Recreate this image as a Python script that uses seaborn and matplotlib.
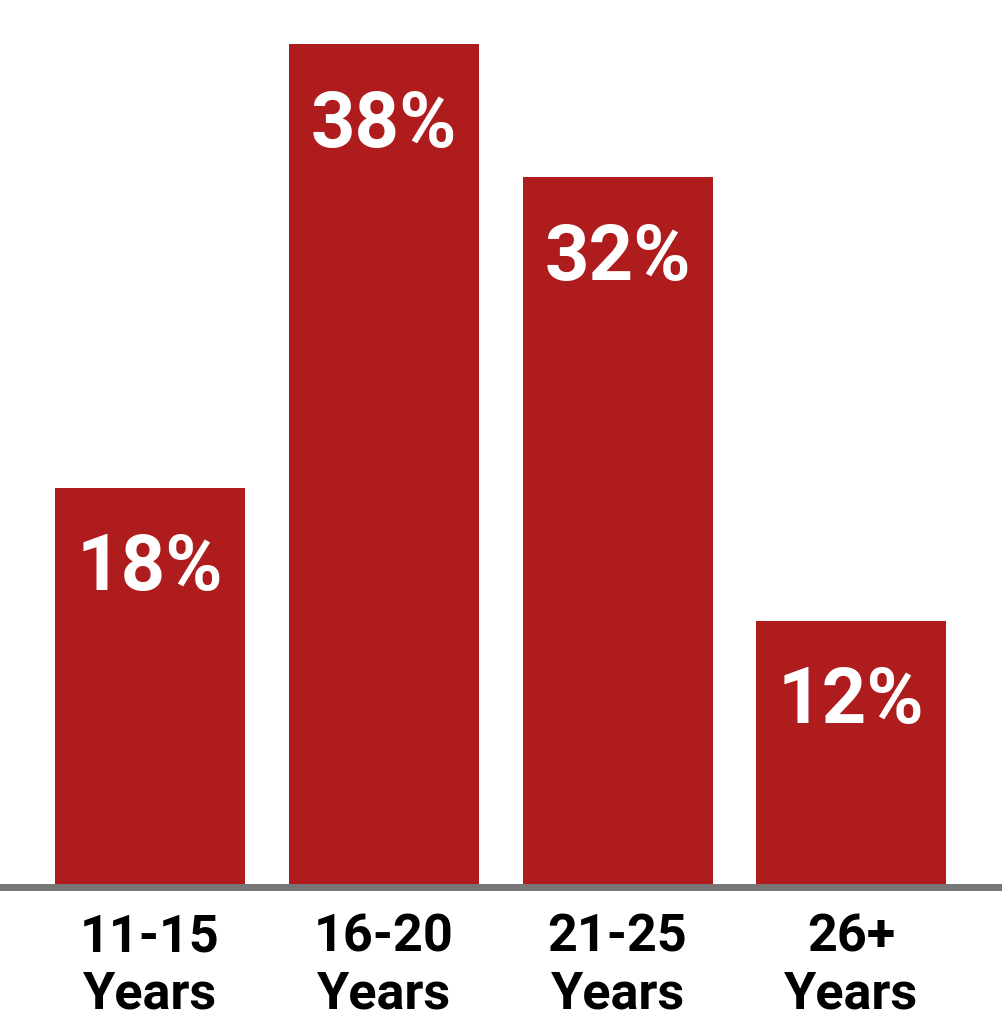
import matplotlib
matplotlib.use("Agg")
import matplotlib.pyplot as plt
import seaborn as sns
import pandas as pd

categories = ["11-15\nYears", "16-20\nYears", "21-25\nYears", "26+\nYears"]
values = [18, 38, 32, 12]
labels = ["18%", "38%", "32%", "12%"]

sns.set_theme(style="white")
plt.rcParams['font.family'] = ['Roboto', 'DejaVu Sans']

df = pd.DataFrame({"cat": categories, "val": values})

fig = plt.figure(figsize=(10.02, 10.24), dpi=100)
ax = fig.add_axes([0, (1024 - 886.5) / 1024, 1, 886.5 / 1024])

sns.barplot(data=df, x="cat", y="val", color="#AE1C1E", saturation=1,
            width=0.813, ax=ax, zorder=1)
for p in ax.patches:
    p.set_edgecolor("none")

ax.set_xlim(-0.6416, 3.644)
ax.set_ylim(0, 40)
ax.set_xlabel("")
ax.set_ylabel("")
ax.set_yticks([])

for s in ["top", "left", "right"]:
    ax.spines[s].set_visible(False)
ax.spines["bottom"].set_color("#767676")
ax.spines["bottom"].set_linewidth(5)
ax.spines["bottom"].set_zorder(3)

ax.tick_params(axis="x", length=0, pad=19)
ax.set_xticks(range(len(categories)))
ax.set_xticklabels(categories, fontsize=37.5, fontweight="bold",
                   color="black", linespacing=1.17)

for i, (v, lab) in enumerate(zip(values, labels)):
    ax.annotate(lab, xy=(i, v), xytext=(0, -74), textcoords="offset points",
                ha="center", va="baseline", fontsize=56, fontweight="bold",
                color="white", zorder=4)

fig.savefig("out.png", dpi=100, facecolor="white")
